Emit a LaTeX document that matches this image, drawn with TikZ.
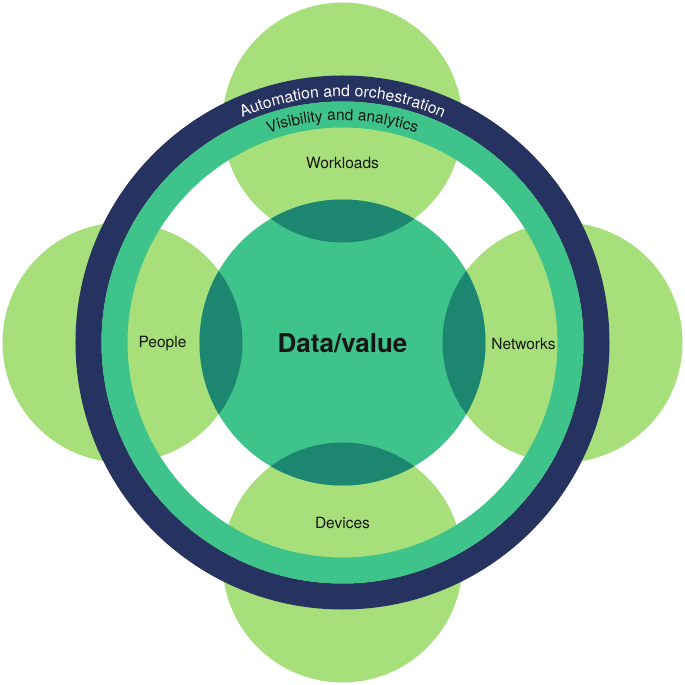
\documentclass[tikz,border=0pt]{standalone}
\usepackage{fontspec}
\setmainfont{TeX Gyre Heros}
\usetikzlibrary{decorations.text}
\definecolor{lightgreen}{HTML}{A7E07A}
\definecolor{midgreen}{HTML}{3EC48B}
\definecolor{lensgreen}{HTML}{1C8670}
\definecolor{navyring}{HTML}{263360}
\definecolor{labeltext}{HTML}{161616}
\tikzset{
  petal/.style={fill=lightgreen},
  core/.style={fill=midgreen},
  lens/.style={fill=lensgreen},
  lbl/.style={text=labeltext, font=\fontsize{15.5}{18}\selectfont, inner sep=0pt},
}
\begin{document}
\begin{tikzpicture}[x=1pt,y=1pt]
\useasboundingbox (-342.5,-342.5) rectangle (342.5,342.5);
\fill[white] (-342.5,-342.5) rectangle (342.5,342.5);
% outer petals
\fill[petal] (0,220) circle (120);
\fill[petal] (-220,0) circle (120);
\fill[petal] (220,0) circle (120);
\fill[petal] (0,-220) circle (120);
% core
\fill[core] (0,0) circle (143);
% lenses
\begin{scope}
  \clip (0,0) circle (143);
  \fill[lens] (0,220) circle (120);
  \fill[lens] (-220,0) circle (120);
  \fill[lens] (220,0) circle (120);
  \fill[lens] (0,-220) circle (120);
\end{scope}
% rings
\fill[navyring, even odd rule] (0,0) circle (267) (0,0) circle (241);
\fill[midgreen, even odd rule] (0,0) circle (241) (0,0) circle (215);
% curved texts
\path[decorate, decoration={text along path, text align=center,
  text={|\color{white}\fontsize{15.8}{18}\selectfont|Automation and orchestration}}]
  (-246,0) arc[start angle=180, end angle=0, radius=246];
\path[decorate, decoration={text along path, text align=center,
  text={|\color{labeltext}\fontsize{15.5}{18}\selectfont|Visibility and analytics}}]
  (-222,0) arc[start angle=180, end angle=0, radius=222];
% labels
\node[lbl] (workloads) at (0,180) {Workloads};
\node[lbl] (people) at (-180,-1) {People};
\node[lbl] (networks) at (181,-1) {Networks};
\node[lbl] (devices) at (0,-180) {Devices};
\node[text=labeltext, font=\bfseries\fontsize{26}{30}\selectfont, inner sep=0pt] (data) at (0,-1) {Data/value};
\end{tikzpicture}
\end{document}
